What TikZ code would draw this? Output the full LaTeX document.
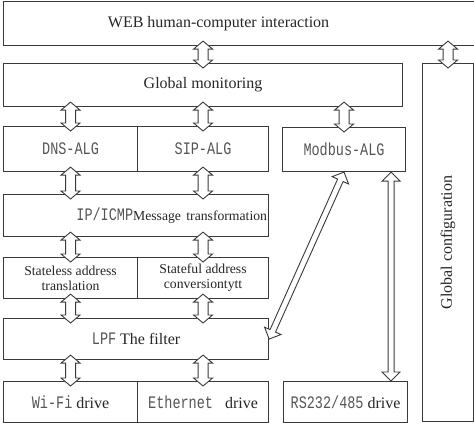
\documentclass[tikz,border=0pt]{standalone}
\usepackage{fontspec}
\usepackage{graphicx}
\setmainfont{Liberation Serif}
\setmonofont{Liberation Mono}
\usetikzlibrary{calc}
\definecolor{boxline}{HTML}{3A3A3A}
\definecolor{monotext}{HTML}{555555}
\newcommand{\mono}[1]{{\fontsize{13.5}{16}\selectfont\ttfamily\color{monotext}\scalebox{1}[1.3]{#1}}}
\begin{document}
\begin{tikzpicture}[x=1pt, y=-1pt, thick,
    big text/.style={font=\fontsize{16}{18}\selectfont, text=black!85},
    small text/.style={font=\fontsize{13.7}{15}\selectfont, text=black!85, align=center},
    box/.style={draw=boxline, line width=1.1pt, anchor=north west, inner sep=0pt, big text},
    arrow shape/.style n args={4}{draw=boxline, line width=0.9pt, fill=white,
        to path={let \p1=($(\tikztostart)!-#4!(\tikztotarget)$), \p2=($(\tikztotarget)!-#4!(\tikztostart)$) in
            (\p1)
            -- ($(\p1)!#1!(\p2)!#2!90:(\p2)$)
            -- ($(\p1)!#1!(\p2)!#3!90:(\p2)$)
            -- ($(\p2)!#1!(\p1)!#3!-90:(\p1)$)
            -- ($(\p2)!#1!(\p1)!#2!-90:(\p1)$)
            -- (\p2)
            -- ($(\p2)!#1!(\p1)!#2!90:(\p1)$)
            -- ($(\p2)!#1!(\p1)!#3!90:(\p1)$)
            -- ($(\p1)!#1!(\p2)!#3!-90:(\p2)$)
            -- ($(\p1)!#1!(\p2)!#2!-90:(\p2)$)
            -- cycle}},
    dblarrow/.style={arrow shape={8pt}{9.5pt}{5pt}{5pt}},
    longarrow/.style={arrow shape={9pt}{9pt}{3pt}{0pt}}]

    \useasboundingbox (0,0) rectangle (474,424);

    % boxes
    \node[box, minimum width=474pt, minimum height=44pt,
        label={[big text, xshift=-22pt]center:WEB human-computer interaction}] (web) at (3,1) {};
    \node[box, minimum width=399pt, minimum height=43pt] (gm) at (3,63) {Global monitoring};
    \node[box, minimum width=51pt, minimum height=358pt] (gc) at (422,63) {\rotatebox{90}{Global configuration}};

    \node[box, minimum width=134pt, minimum height=45pt] (dns) at (3,126) {\mono{DNS-ALG}};
    \node[box, minimum width=131pt, minimum height=45pt] (sip) at (137,126) {\mono{SIP-ALG}};
    \node[box, minimum width=123pt, minimum height=44pt] (modbus) at (282,127) {\mono{Modbus-ALG}};

    \node[box, minimum width=265pt, minimum height=42pt, text width=262pt, align=right] (ip) at (3,194)
        {\mono{IP/ICMP}{\fontsize{13.7}{15}\selectfont Message transformation}};

    \node[box, small text, minimum width=134pt, minimum height=41pt] (sl) at (3,257) {Stateless address\\translation};
    \node[box, small text, minimum width=131pt, minimum height=41pt] (sf) at (137,257) {Stateful address\\conversiontytt};

    \node[box, minimum width=265pt, minimum height=41pt] (lpf) at (3,318) {\mono{LPF} The filter};

    \node[box, minimum width=134pt, minimum height=41pt] (wifi) at (3,381) {\mono{Wi-Fi} drive};
    \node[box, minimum width=131pt, minimum height=41pt] (eth) at (137,381) {\mono{Ethernet}\hspace{12pt}drive};
    \node[box, minimum width=124pt, minimum height=41pt] (rs) at (283,381) {\mono{RS232/485} drive};

    % arrows
    \draw[dblarrow] (gm.north |- web.south) to (gm.north);
    \draw[dblarrow] (gc.north |- web.south) to (gc.north);
    \draw[dblarrow] (dns.north |- gm.south) to (dns.north);
    \draw[dblarrow] (sip.north |- gm.south) to (sip.north);
    \draw[dblarrow] (modbus.north |- gm.south) to (modbus.north);
    \draw[dblarrow] (dns.south) to (dns.south |- ip.north);
    \draw[dblarrow] (sip.south) to (sip.south |- ip.north);
    \draw[dblarrow] (sl.north |- ip.south) to (sl.north);
    \draw[dblarrow] (sf.north |- ip.south) to (sf.north);
    \draw[dblarrow] (sl.south) to (sl.south |- lpf.north);
    \draw[dblarrow] (sf.south) to (sf.south |- lpf.north);
    \draw[dblarrow] (wifi.north |- lpf.south) to (wifi.north);
    \draw[dblarrow] (eth.north |- lpf.south) to (eth.north);

    \draw[longarrow] (lpf.east) to (modbus.south);
    \coordinate (rsup) at ([xshift=-15pt]modbus.south east);
    \draw[longarrow] (rsup) to (rsup |- rs.north);
\end{tikzpicture}
\end{document}
